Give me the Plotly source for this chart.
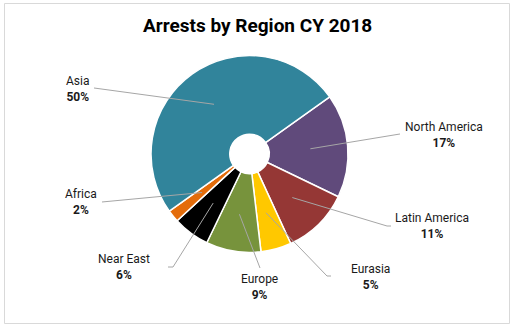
import math
import plotly.graph_objects as go

# ---- data ----
regions = ["North America", "Latin America", "Eurasia", "Europe", "Near East", "Africa", "Asia"]
shares = [17, 11, 5, 9, 6, 2, 50]
title_text = "Arrests by Region CY 2018"

# ---- style / layout ----
colors = ["#604A7B", "#953735", "#FFC800", "#77933C", "#000000", "#E46C0A", "#31849B"]
W, H = 514, 331
cx, cy, R = 249.5, 154.0, 98.5   # pie centre / radius in pixels
rotation = 54.5                    # start angle of first slice (clockwise from 12 o'clock)
hole = 0.2
font_family = "Roboto, Noto Sans, sans-serif"

# label text centres (pixels) and leader-line bends (pixels)
label_pos = {
    "Asia": (77, 89),
    "North America": (444, 135),
    "Latin America": (432, 226),
    "Eurasia": (370, 277),
    "Europe": (259, 287),
    "Near East": (124, 267),
    "Africa": (81, 202),
}
leader_pts = {
    "Asia": [(94, 88)],
    "North America": [(400, 134)],
    "Latin America": [(387, 226), (391, 226)],
    "Eurasia": [(327, 276), (331, 276)],
    "Europe": [(260, 268)],
    "Near East": [(173, 267), (168, 267)],
    "Africa": [(102, 202)],
}
leader_r = 0.62


def px(x):
    return x / W


def py(y):
    return 1 - y / H


fig = go.Figure()
fig.add_trace(go.Pie(
    labels=regions,
    values=shares,
    sort=False,
    direction="clockwise",
    rotation=rotation,
    hole=hole,
    textinfo="none",
    marker=dict(colors=colors, line=dict(color="white", width=1.5)),
    domain=dict(x=[px(cx - R), px(cx + R)], y=[py(cy + R), py(cy - R)]),
    showlegend=False,
))

shapes = [dict(type="rect", xref="paper", yref="paper",
               x0=px(4.5), x1=px(509.5), y0=py(323.5), y1=py(3.5),
               line=dict(color="#D9D9D9", width=1))]
annotations = []
total = sum(shares)
cum = 0.0
for name, v in zip(regions, shares):
    mid = rotation + 360.0 * (cum + v / 2) / total
    cum += v
    a = math.radians(mid)
    sx = cx + leader_r * R * math.sin(a)
    sy = cy - leader_r * R * math.cos(a)
    pts = [(sx, sy)] + leader_pts[name]
    path = "M " + " L ".join(f"{px(x):.5f},{py(y):.5f}" for x, y in pts)
    shapes.append(dict(type="path", xref="paper", yref="paper", path=path,
                       line=dict(color="#A6A6A6", width=1)))
    lx, ly = label_pos[name]
    annotations.append(dict(
        x=px(lx), y=py(ly), xref="paper", yref="paper", showarrow=False,
        text=f"{name}<br><b>{v}%</b>", align="center",
        font=dict(family=font_family, size=12, color="#1a1a1a"),
        xanchor="center", yanchor="middle"))

annotations.append(dict(
    x=px(257), y=py(25), xref="paper", yref="paper", showarrow=False,
    text=f"<b>{title_text}</b>", font=dict(family=font_family, size=19, color="#000000"),
    xanchor="center", yanchor="middle"))

fig.update_layout(
    width=W, height=H, margin=dict(l=0, r=0, t=0, b=0),
    paper_bgcolor="white", plot_bgcolor="white",
    shapes=shapes, annotations=annotations,
)
fig.write_html("out.html")
